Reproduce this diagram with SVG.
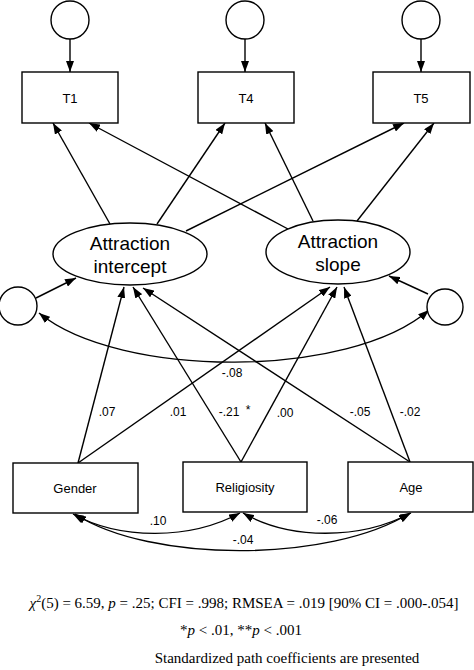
<svg xmlns="http://www.w3.org/2000/svg" width="474" height="670" viewBox="0 0 474 670">
<defs>
<marker id="ah" viewBox="0 0 11 8" refX="11" refY="4" markerWidth="11" markerHeight="8" markerUnits="userSpaceOnUse" orient="auto-start-reverse">
<path d="M0,0 L11,4 L0,8 Z" fill="#000"/>
</marker>
<style>
.n{fill:#fff;stroke:#000;stroke-width:1.4}
.c{fill:none;stroke:#000;stroke-width:1.4;marker-end:url(#ah)}
.d{fill:none;stroke:#000;stroke-width:1.4;marker-start:url(#ah);marker-end:url(#ah)}
.t{font-family:"Liberation Sans",Arial,sans-serif;font-size:13px;text-anchor:middle;fill:#000}
.big{font-family:"Liberation Sans",Arial,sans-serif;font-size:19px;text-anchor:middle;fill:#000}
.l{font-family:"Liberation Sans",Arial,sans-serif;font-size:12px;text-anchor:middle;fill:#000}
.f{font-family:"Liberation Serif","Times New Roman",serif;font-size:15px;text-anchor:middle;fill:#000}
</style>
</defs>
<rect width="474" height="670" fill="#fff"/>
<g id="connectors">
<line class="c" x1="70" y1="39" x2="70" y2="72"/>
<line class="c" x1="245" y1="39" x2="245" y2="72"/>
<line class="c" x1="421" y1="39" x2="421" y2="72"/>
<line class="c" x1="110" y1="224" x2="53" y2="123"/>
<line class="c" x1="157" y1="224" x2="225" y2="123"/>
<line class="c" x1="186" y1="231" x2="404" y2="123"/>
<line class="c" x1="288" y1="229" x2="89" y2="123"/>
<line class="c" x1="313" y1="221" x2="265" y2="123"/>
<line class="c" x1="357" y1="221" x2="434" y2="123"/>
<line class="c" x1="36" y1="298" x2="76" y2="278"/>
<line class="c" x1="428" y1="294" x2="389" y2="276"/>
<path class="d" d="M39,313 C120,379 350,379 429,310"/>
<line class="c" x1="78" y1="463" x2="124" y2="287"/>
<line class="c" x1="241" y1="462" x2="133" y2="287"/>
<line class="c" x1="410" y1="462" x2="143" y2="288"/>
<line class="c" x1="78" y1="463" x2="330" y2="287"/>
<line class="c" x1="241" y1="462" x2="337" y2="287"/>
<line class="c" x1="410" y1="462" x2="344" y2="287"/>
<path class="d" d="M73,514 C120,540 190,540 240,513"/>
<path class="d" d="M243,513 C290,540 360,540 411,513"/>
<path class="d" d="M75,514 C150,563 330,563 410,513"/>
<text class="l" x="107" y="416">.07</text>
<text class="l" x="178" y="416">.01</text>
<text class="l" x="229" y="416">-.21</text>
<text class="l" x="248" y="414">*</text>
<text class="l" x="285" y="417">.00</text>
<text class="l" x="360" y="416">-.05</text>
<text class="l" x="410" y="416">-.02</text>
<text class="l" x="232" y="377">-.08</text>
<text class="l" x="158" y="525">.10</text>
<text class="l" x="327" y="524">-.06</text>
<text class="l" x="243" y="544">-.04</text>
</g>
<g id="e1"><circle class="n" cx="70" cy="20" r="19"/></g>
<g id="e4"><circle class="n" cx="245" cy="20" r="19"/></g>
<g id="e5"><circle class="n" cx="421" cy="20" r="19"/></g>
<g id="T1"><rect class="n" x="22" y="72" width="96" height="51"/><text class="t" x="70" y="103">T1</text></g>
<g id="T4"><rect class="n" x="198" y="72" width="96" height="51"/><text class="t" x="246" y="103">T4</text></g>
<g id="T5"><rect class="n" x="373" y="72" width="97" height="51"/><text class="t" x="421" y="103">T5</text></g>
<g id="intercept"><ellipse class="n" cx="130" cy="254" rx="77" ry="31"/><text class="big" x="130" y="250">Attraction</text><text class="big" x="130" y="273">intercept</text></g>
<g id="slope"><ellipse class="n" cx="338" cy="252" rx="72" ry="32"/><text class="big" x="338" y="248">Attraction</text><text class="big" x="338" y="271">slope</text></g>
<g id="d1"><circle class="n" cx="18" cy="306" r="19"/></g>
<g id="d2"><circle class="n" cx="445" cy="307" r="18"/></g>
<g id="Gender"><rect class="n" x="13" y="463" width="125" height="50"/><text class="t" x="75" y="493">Gender</text></g>
<g id="Religiosity"><rect class="n" x="183" y="462" width="124" height="50"/><text class="t" x="245" y="492">Religiosity</text></g>
<g id="Age"><rect class="n" x="348" y="462" width="125" height="50"/><text class="t" x="411" y="492">Age</text></g>
<g id="notes">
<text class="f" x="244" y="608"><tspan font-style="italic">χ</tspan><tspan font-size="10" dy="-6">2</tspan><tspan dy="6">(5) = 6.59, </tspan><tspan font-style="italic">p</tspan> = .25; CFI = .998; RMSEA = .019 [90% CI = .000-.054]</text>
<text class="f" x="241" y="635" font-size="16">*<tspan font-style="italic">p</tspan> &lt; .01, **<tspan font-style="italic">p</tspan> &lt; .001</text>
<text class="f" x="287" y="663" font-size="16">Standardized path coefficients are presented</text>
</g>
</svg>
